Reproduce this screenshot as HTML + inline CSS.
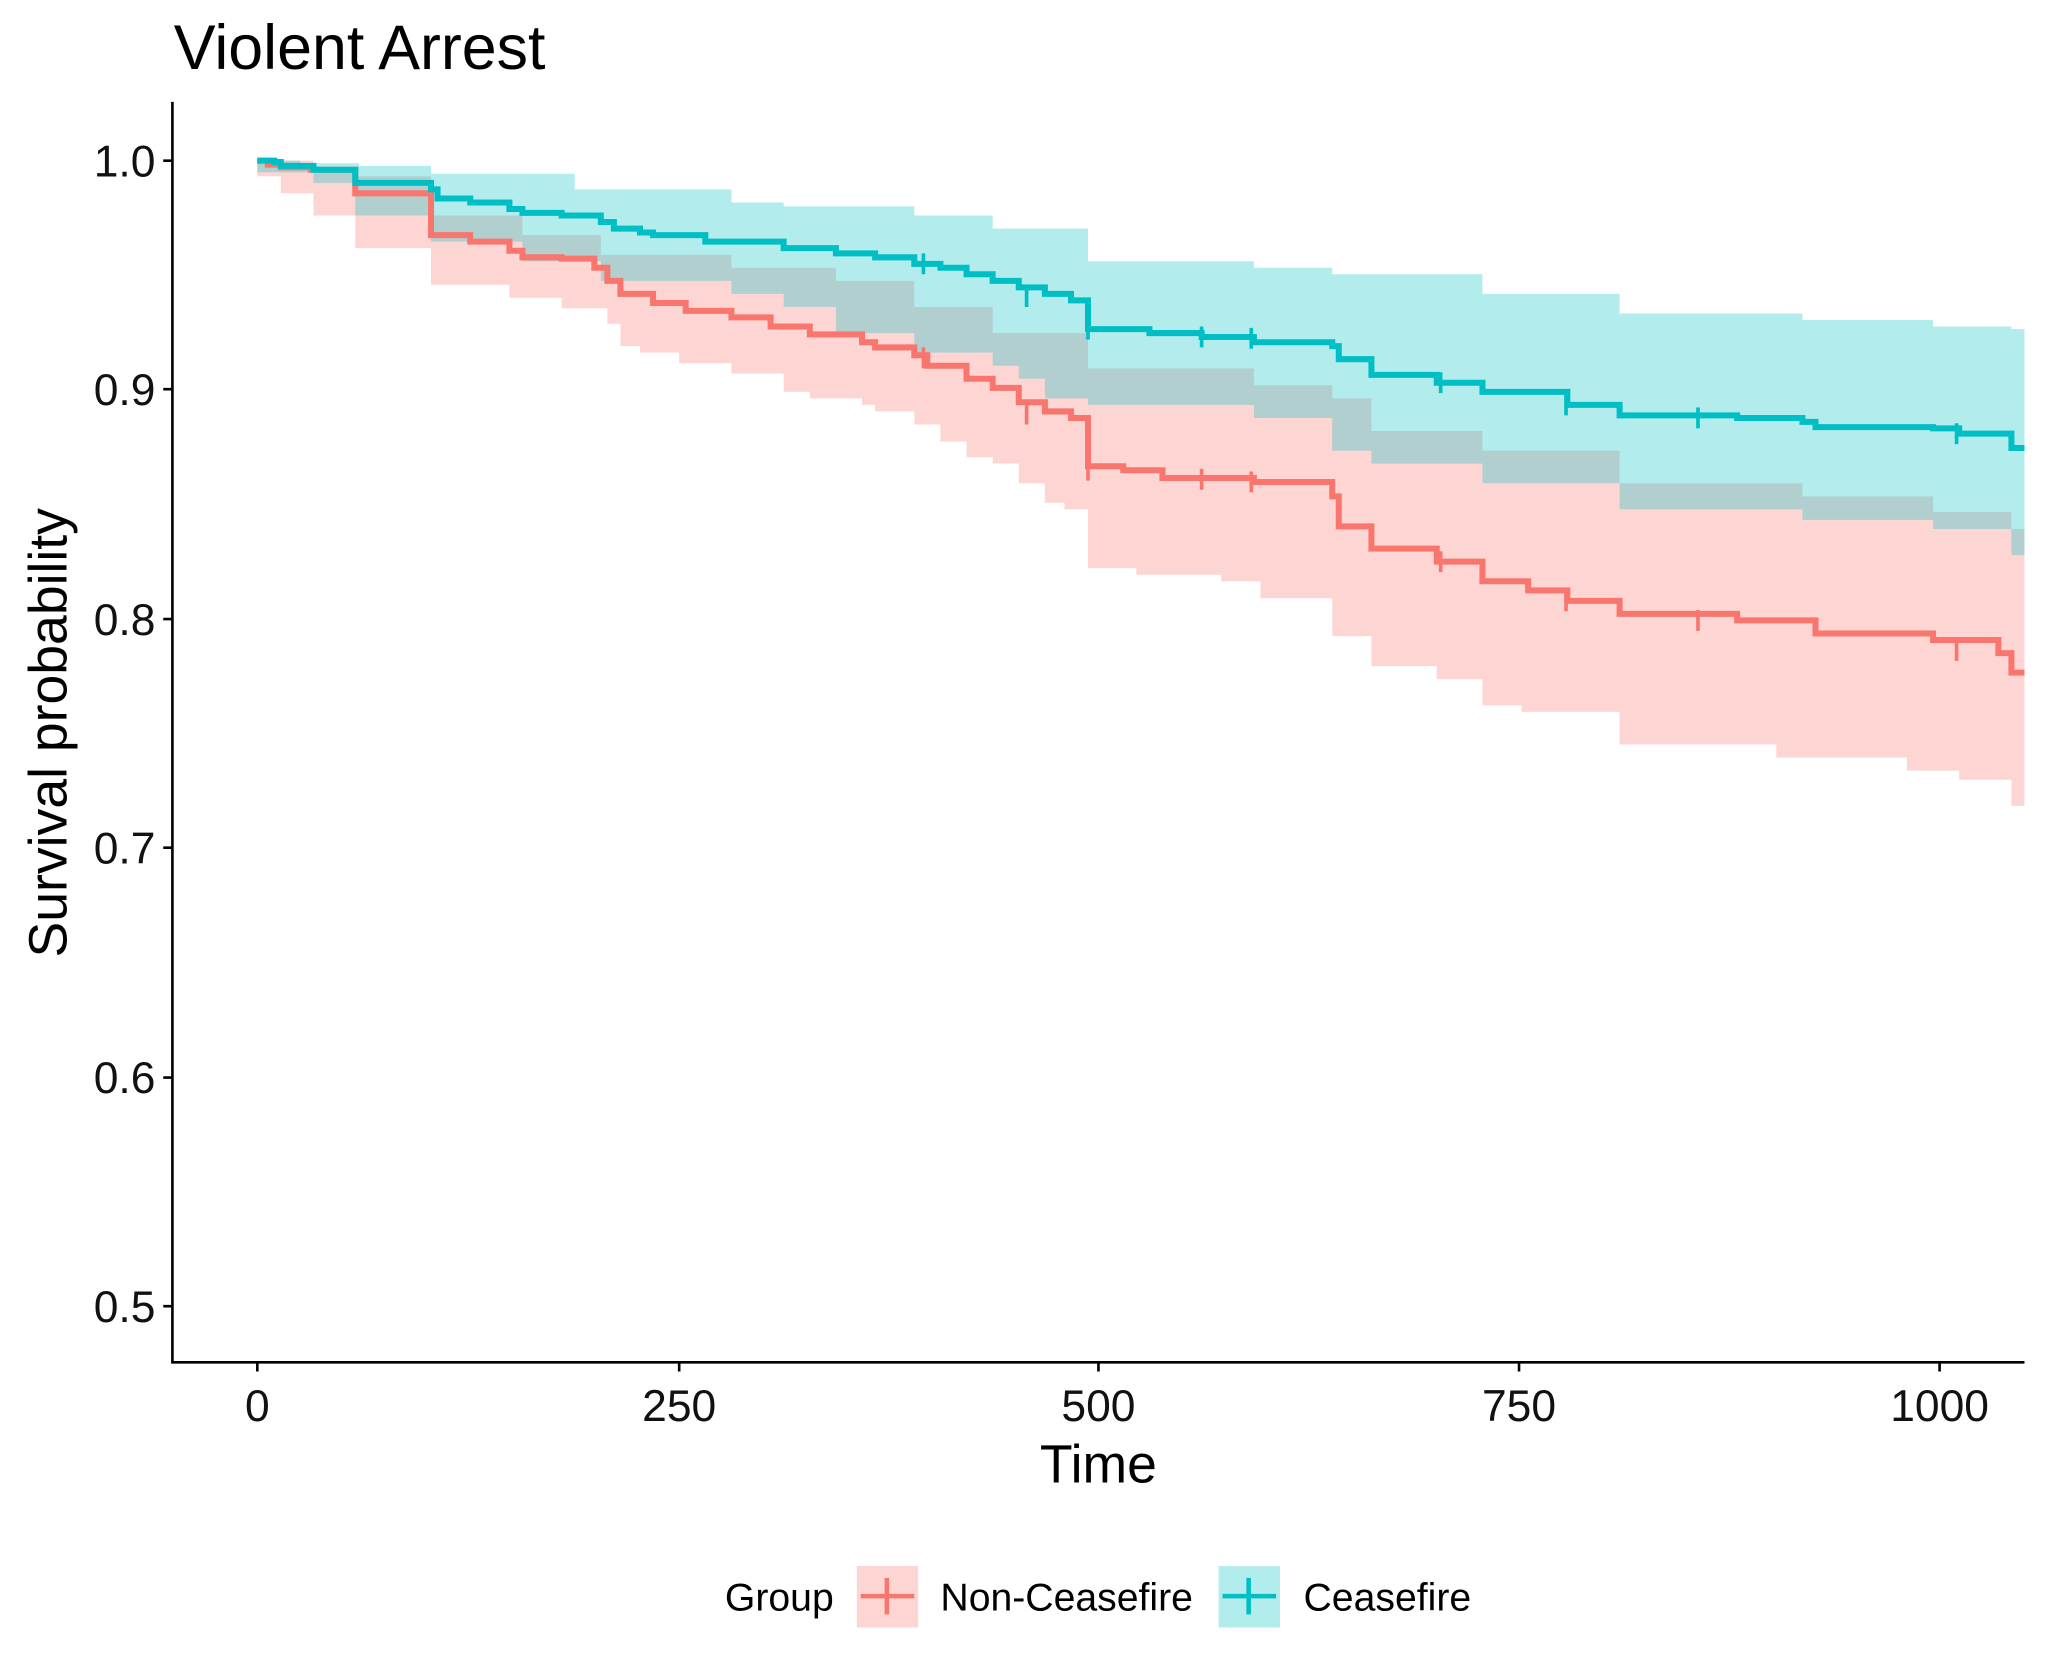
<!DOCTYPE html>
<html><head><meta charset="utf-8"><style>html,body{margin:0;padding:0;background:#fff}svg{display:block}</style></head>
<body>
<svg width="2048" height="1678" viewBox="0 0 1568 1284.7" preserveAspectRatio="none" xmlns="http://www.w3.org/2000/svg" font-family="Liberation Sans, Arial, sans-serif">
<rect width="1568" height="1285" fill="#fff"/>
<text x="133" y="53" font-size="48" fill="#000">Violent Arrest</text>
<path fill="#F8766D" fill-opacity="0.3" d="M197,123 H240 V130 H270 V135 H330 V165 H400 V180 H460 V195 H560 V205 H640 V215 H700 V235 H760 V255 H833 V282 H960 V295 H1020 V305 H1050 V330 H1135 V345 H1240 V370 H1380 V380 H1480 V392 H1540 V405 H1550 V617 H1540 V597 H1500 V590 H1460 V580 H1360 V570 H1240 V545 H1165 V540 H1135 V520 H1100 V510 H1050 V487 H1020 V458 H965 V445 H935 V440 H870 V435 H833 V390 H815 V385 H800 V370 H780 V355 H760 V350 H740 V338 H720 V325 H700 V315 H670 V310 H660 V305 H620 V300 H600 V286 H560 V278 H520 V270 H490 V265 H475 V248 H465 V236 H430 V228 H390 V218 H330 V190 H272 V165 H240 V148 H215 V135 H197 Z"/>
<path fill="#00BFC4" fill-opacity="0.3" d="M197,123 H230 V125 H275 V127 H330 V133 H440 V145 H560 V155 H600 V158 H700 V165 H760 V175 H833 V200 H960 V205 H1020 V210 H1135 V225 H1240 V240 H1380 V245 H1480 V250 H1540 V252 H1550 V425 H1540 V405 H1480 V398 H1380 V390 H1240 V370 H1135 V355 H1050 V345 H1020 V320 H960 V310 H833 V305 H800 V290 H780 V280 H760 V270 H700 V255 H640 V235 H600 V225 H560 V215 H460 V200 H400 V185 H330 V165 H272 V140 H240 V132 H197 Z"/>
<path fill="none" stroke="#F8766D" stroke-width="4.6" d="M197,123 H205 V126 H215 V128 H238 V130 H272 V148 H330 V180 H360 V185 H390 V192 H400 V197 H430 V198 H455 V205 H465 V215 H475 V225 H500 V232 H525 V238 H560 V243 H590 V250 H620 V256 H660 V262 H670 V266 H700 V272 H710 V280 H740 V290 H760 V297 H780 V308 H800 V315 H820 V320 H833 V357 H860 V360 H890 V366 H960 V369 H1020 V380 H1025 V403 H1050 V420 H1100 V430 H1135 V445 H1170 V452 H1200 V460 H1240 V470 H1330 V475 H1390 V485 H1480 V490 H1530 V500 H1540 V515 H1550"/>
<path fill="none" stroke="#00BFC4" stroke-width="4.6" d="M197,123 H210 V124 H215 V127 H240 V130 H272 V140 H330 V145 H335 V152 H360 V155 H390 V160 H400 V163 H430 V165 H460 V170 H470 V175 H490 V178 H500 V180 H540 V185 H600 V190 H640 V194 H670 V197 H700 V202 H720 V205 H740 V210 H760 V215 H780 V220 H800 V225 H820 V230 H833 V252 H880 V255 H920 V258 H960 V262 H1020 V265 H1025 V275 H1050 V287 H1100 V293 H1135 V300 H1200 V310 H1240 V318 H1330 V320 H1380 V323 H1390 V327 H1480 V328 H1500 V332 H1540 V343 H1550"/>
<g stroke="#F8766D" stroke-width="2.8">
<path d="M707,266 v16 M786,309 v16 M833,352 v16 M920,359 v16 M958,361 v16 M1103,422 v16 M1199,452 v16 M1300,467 v16 M1498,490 v16"/>
</g>
<g stroke="#00BFC4" stroke-width="2.8">
<path d="M707,194 v16 M786,219 v16 M833,244 v16 M920,250 v16 M958,251 v16 M1103,285 v16 M1199,302 v16 M1300,312 v16 M1498,324 v16"/>
</g>
<g stroke="#000" stroke-width="2">
<line x1="132" y1="78" x2="132" y2="1043"/>
<line x1="131" y1="1043" x2="1550" y2="1043"/>
<path d="M125,123 H132 M125,298 H132 M125,474 H132 M125,649 H132 M125,825 H132 M125,1000 H132"/>
<path d="M197,1043 v7 M520,1043 v7 M841,1043 v7 M1163,1043 v7 M1485,1043 v7"/>
</g>
<g font-size="34" fill="#111" text-anchor="end">
<text x="119" y="135">1.0</text><text x="119" y="310">0.9</text><text x="119" y="486">0.8</text>
<text x="119" y="661">0.7</text><text x="119" y="837">0.6</text><text x="119" y="1012">0.5</text>
</g>
<g font-size="34" fill="#111" text-anchor="middle">
<text x="197" y="1088">0</text><text x="520" y="1088">250</text><text x="841" y="1088">500</text>
<text x="1163" y="1088">750</text><text x="1485" y="1088">1000</text>
</g>
<text x="841" y="1135" font-size="41" text-anchor="middle">Time</text>
<text transform="translate(51,561) rotate(-90)" font-size="41" text-anchor="middle">Survival probability</text>
<text x="555" y="1233" font-size="30">Group</text>
<rect x="656" y="1199" width="47" height="47" fill="#F8766D" fill-opacity="0.3"/>
<path d="M659,1222 H700 M679,1208 V1236" stroke="#F8766D" stroke-width="3.5"/>
<text x="720" y="1233" font-size="30">Non-Ceasefire</text>
<rect x="933" y="1199" width="47" height="47" fill="#00BFC4" fill-opacity="0.3"/>
<path d="M936,1222 H977 M956,1208 V1236" stroke="#00BFC4" stroke-width="3.5"/>
<text x="998" y="1233" font-size="30">Ceasefire</text>
</svg>
</body></html>
